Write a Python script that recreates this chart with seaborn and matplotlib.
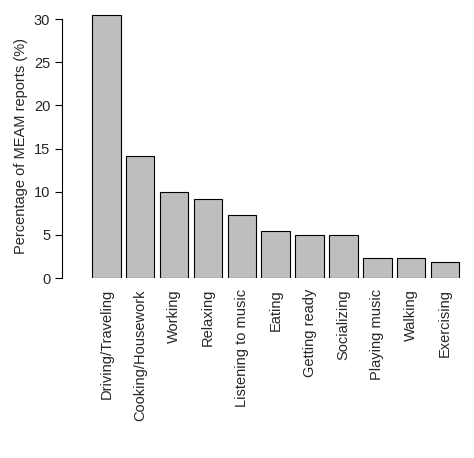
import matplotlib
matplotlib.use("Agg")
import matplotlib.pyplot as plt
import seaborn as sns
import pandas as pd

activities = ["Driving/Traveling", "Cooking/Housework", "Working", "Relaxing",
              "Listening to music", "Eating", "Getting ready", "Socializing",
              "Playing music", "Walking", "Exercising"]
percent = [30.5, 14.1, 10.0, 9.1, 7.3, 5.4, 5.0, 5.0, 2.3, 2.3, 1.8]

sns.set_style("white")
plt.rcParams["font.family"] = ["Liberation Sans", "DejaVu Sans"]

df = pd.DataFrame({"Activity": activities, "Percent": percent})

fig = plt.figure(figsize=(4.74, 4.58), dpi=100)
ax = fig.add_axes([62 / 474, 180 / 458, 400 / 474, 264 / 458])
sns.barplot(data=df, x="Activity", y="Percent", color="#bebebe",
            edgecolor="black", linewidth=0.8, width=0.84, saturation=1, ax=ax)
ax.set_xlim(-1.31, 10.5)
ax.set_ylim(0, 30.6)
ax.set_yticks([0, 5, 10, 15, 20, 25, 30])
ax.set_xlabel("")
ax.set_ylabel("Percentage of MEAM reports (%)", fontsize=10.5)
for s in ["top", "right", "bottom"]:
    ax.spines[s].set_visible(False)
ax.spines["left"].set_bounds(0, 30)
ax.spines["left"].set_color("black")
ax.tick_params(axis="y", direction="out", length=5, color="black", labelsize=10.5, left=True)
ax.tick_params(axis="x", length=0, labelsize=10.5, pad=8)
plt.setp(ax.get_xticklabels(), rotation=90)

fig.savefig("out.png", dpi=100)
